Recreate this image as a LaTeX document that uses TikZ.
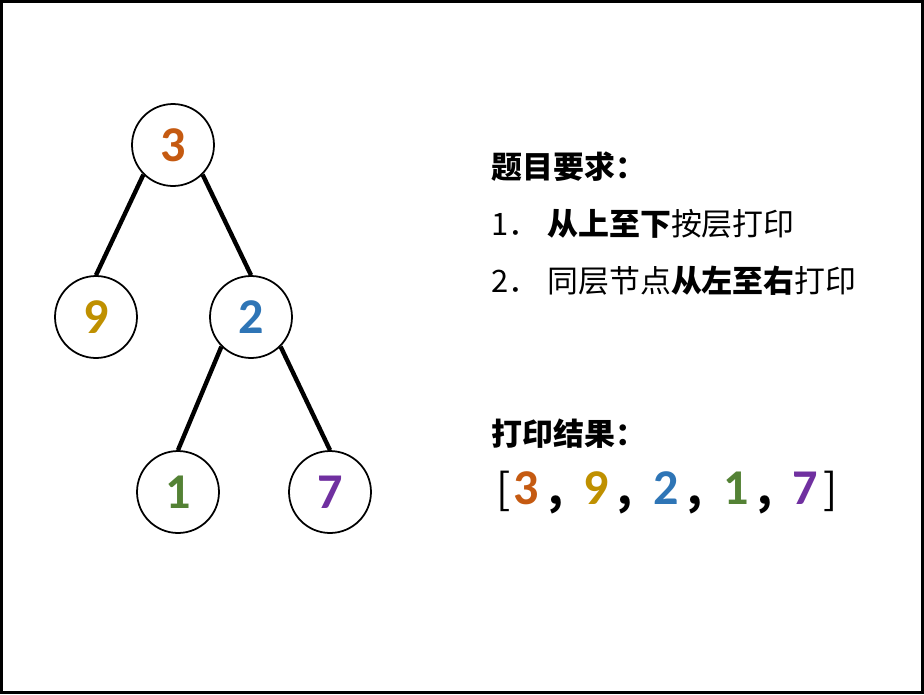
\documentclass[tikz,border=0pt]{standalone}
\usepackage{fontspec}
\setmainfont{Noto Sans CJK SC}
\newfontfamily\numfont{Carlito}
\definecolor{cthree}{HTML}{C55A11}
\definecolor{cnine}{HTML}{BF9000}
\definecolor{ctwo}{HTML}{2E75B6}
\definecolor{cone}{HTML}{548235}
\definecolor{cseven}{HTML}{7030A0}
\newcommand{\tnum}[2]{{\numfont\bfseries\fontsize{28.5}{30}\selectfont\color{#1}#2}}
\newcommand{\slot}[2]{\makebox[39.7pt][l]{\tnum{#1}{#2}\hspace{5pt}\textbf{,}}}
\begin{document}
\begin{tikzpicture}[x=0.02cm,y=-0.02cm,
  knot/.style={draw,circle,line width=1pt,minimum size=1.64cm,inner sep=0pt},
  edge/.style={line width=2.5pt},
  say/.style={anchor=west,inner sep=0pt,font=\fontsize{17.6}{20}\selectfont}]
\useasboundingbox (0,0) rectangle (924,694);
\draw[line width=1.5pt] (1.3,1.3) rectangle (922.7,692.7);
\node[knot] (n3) at (173,145) {\tnum{cthree}{3}};
\node[knot] (n9) at (96,317) {\tnum{cnine}{9}};
\node[knot] (n2) at (251,317) {\tnum{ctwo}{2}};
\node[knot] (n1) at (178,492) {\tnum{cone}{1}};
\node[knot] (n7) at (330,492) {\tnum{cseven}{7}};
\draw[edge] (n3.south west) -- (n9.north);
\draw[edge] (n3.south east) -- (n2.north);
\draw[edge] (n2.south west) -- (n1.north);
\draw[edge] (n2.south east) -- (n7.north);
\node[say] (need) at (491,167) {\textbf{题目要求：}};
\node[say] (ruleone) at (491,224) {1．\hspace{4.5pt}\textbf{从上至下}按层打印};
\node[say] (ruletwo) at (491,281) {2．\hspace{4.5pt}同层节点\textbf{从左至右}打印};
\node[say] (result) at (491,434) {\textbf{打印结果：}};
\node[say,font=\fontsize{24}{26}\selectfont] (order) at (496,493)
  {\makebox[10pt][l]{[}\slot{cthree}{3}\slot{cnine}{9}\slot{ctwo}{2}\slot{cone}{1}\tnum{cseven}{7}\hspace{3pt}]};
\end{tikzpicture}
\end{document}
